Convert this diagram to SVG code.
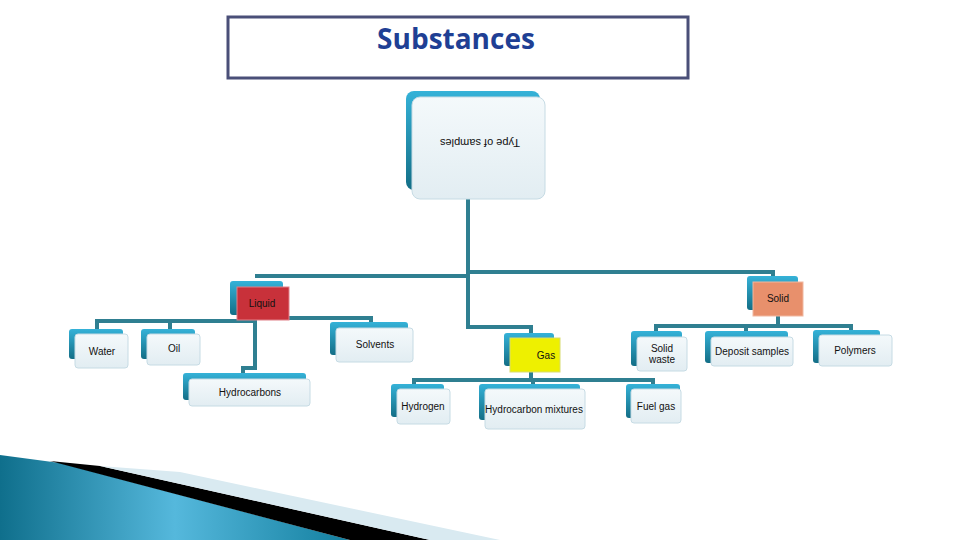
<svg xmlns="http://www.w3.org/2000/svg" width="960" height="540" viewBox="0 0 960 540">
<defs>
<linearGradient id="bk" x1="0" y1="0" x2="0" y2="1"><stop offset="0" stop-color="#35b2d8"/><stop offset="1" stop-color="#136e86"/></linearGradient>
<linearGradient id="fr" x1="0" y1="0" x2="0" y2="1"><stop offset="0" stop-color="#f4f9fb"/><stop offset="1" stop-color="#e2edf2"/></linearGradient>
<linearGradient id="wd" x1="0" y1="0" x2="1" y2="0"><stop offset="0" stop-color="#0f6f8c"/><stop offset="0.5" stop-color="#55b8dc"/><stop offset="1" stop-color="#137f9f"/></linearGradient>
</defs>
<style>
.b{fill:url(#bk)}
.f{fill:url(#fr);stroke:#c6dbe4;stroke-width:1}
.t{font-family:"Liberation Sans",Arial,sans-serif;font-size:10px;fill:#111;text-anchor:middle}
.c{fill:none;stroke:#2f7f91;stroke-width:4}
</style>
<rect width="960" height="540" fill="#fff"/>
<polygon points="0,455 60,463 350,540 0,540" fill="url(#wd)"/>
<polygon points="50,461 100,466 430,540 350,540" fill="#000"/>
<polygon points="100,466 180,472 500,540 430,540" fill="#d9eaf1"/>
<rect x="228" y="17" width="460" height="61" fill="#fff" stroke="#4a4f78" stroke-width="3"/>
<text x="456" y="49" font-family="Open Sans,'Liberation Sans',sans-serif" font-size="28" font-weight="bold" fill="#1f3f94" text-anchor="middle">Substances</text>
<g id="connectors">
<path class="c" d="M468,199 V327 H531 V335"/>
<path class="c" d="M468,272 H773 V278"/>
<path class="c" d="M468,276 H255"/>
<path class="c" d="M97,331 V321 H255"/>
<path class="c" d="M170,331 V321"/>
<path class="c" d="M255,316 V368 H243 V375"/>
<path class="c" d="M283,318 H371 V324"/>
<path class="c" d="M531,372 V380"/>
<path class="c" d="M414,386 V380 H653 V386"/>
<path class="c" d="M533,380 V386"/>
<path class="c" d="M778,316 V326"/>
<path class="c" d="M656,333 V326 H851 V332"/>
<path class="c" d="M746,326 V333"/>
</g>
<g id="type"><rect class="b" x="406" y="91" width="134" height="99" rx="8"/><rect class="f" x="412" y="97" width="133" height="102" rx="8"/><text class="t" style="font-size:11px" transform="rotate(180 480 143)" x="480" y="147">Type of samples</text></g>
<g id="liquid"><rect class="b" x="230" y="281" width="53" height="34" rx="3"/><rect x="237" y="287" width="52" height="33" fill="#c8313a" stroke="#e08088"/><text class="t" x="262" y="307">Liquid</text></g>
<g id="water"><rect class="b" x="69" y="329" width="54" height="30" rx="3"/><rect class="f" x="75" y="334" width="53" height="34" rx="3"/><text class="t" x="102" y="355">Water</text></g>
<g id="oil"><rect class="b" x="141" y="329" width="54" height="30" rx="3"/><rect class="f" x="147" y="334" width="53" height="31" rx="3"/><text class="t" x="174" y="352">Oil</text></g>
<g id="hydrocarbons"><rect class="b" x="183" y="373" width="123" height="27" rx="3"/><rect class="f" x="189" y="379" width="121" height="27" rx="3"/><text class="t" x="250" y="396">Hydrocarbons</text></g>
<g id="solvents"><rect class="b" x="330" y="322" width="78" height="33" rx="3"/><rect class="f" x="336" y="328" width="77" height="34" rx="3"/><text class="t" x="375" y="348">Solvents</text></g>
<g id="gas"><rect class="b" x="504" y="333" width="50" height="33" rx="3"/><rect x="510" y="338" width="50" height="34" fill="#eef000" stroke="#d8dc70"/><text class="t" x="546" y="359">Gas</text></g>
<g id="hydrogen"><rect class="b" x="391" y="384" width="53" height="33" rx="3"/><rect class="f" x="397" y="389" width="53" height="35" rx="3"/><text class="t" x="423" y="410">Hydrogen</text></g>
<g id="hcmix"><rect class="b" x="479" y="384" width="101" height="36" rx="3"/><rect class="f" x="485" y="389" width="100" height="40" rx="3"/><text class="t" x="534" y="413">Hydrocarbon mixtures</text></g>
<g id="fuelgas"><rect class="b" x="626" y="384" width="54" height="34" rx="3"/><rect class="f" x="631" y="389" width="50" height="34" rx="3"/><text class="t" x="656" y="410">Fuel gas</text></g>
<g id="solid"><rect class="b" x="747" y="276" width="51" height="34" rx="3"/><rect x="753" y="282" width="50" height="34" fill="#e8906c" stroke="#f0b8a0"/><text class="t" x="778" y="302">Solid</text></g>
<g id="solidwaste"><rect class="b" x="631" y="331" width="51" height="35" rx="3"/><rect class="f" x="637" y="337" width="50" height="34" rx="3"/><text class="t" x="662" y="352">Solid</text><text class="t" x="662" y="363">waste</text></g>
<g id="deposit"><rect class="b" x="705" y="331" width="83" height="32" rx="3"/><rect class="f" x="711" y="337" width="82" height="29" rx="3"/><text class="t" x="752" y="355">Deposit samples</text></g>
<g id="polymers"><rect class="b" x="813" y="330" width="67" height="33" rx="3"/><rect class="f" x="819" y="335" width="73" height="31" rx="3"/><text class="t" x="855" y="354">Polymers</text></g>
</svg>
